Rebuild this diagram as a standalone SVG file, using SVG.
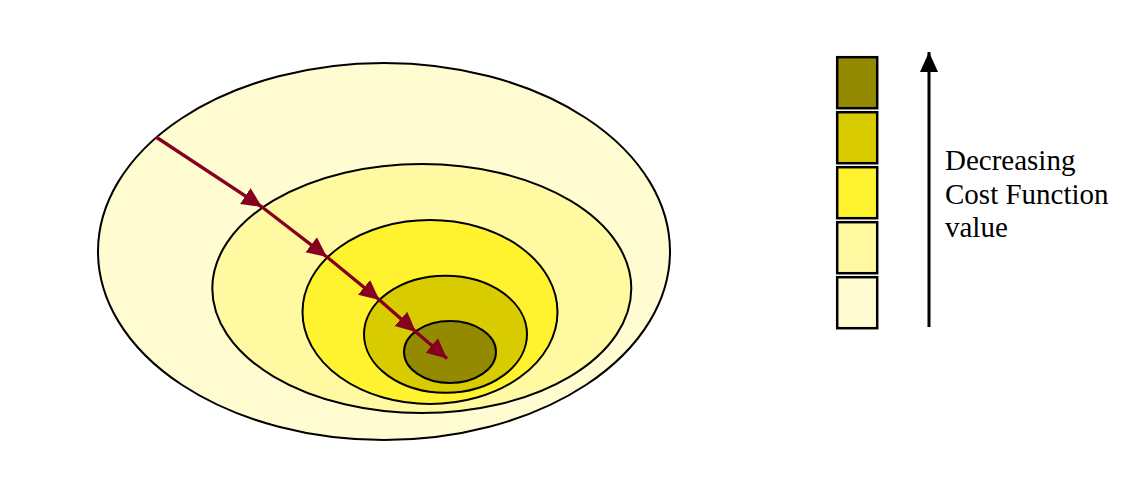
<svg xmlns="http://www.w3.org/2000/svg" width="1147" height="477" viewBox="0 0 1147 477">
<style>
.c{stroke:#000;stroke-width:2}
.sq{stroke:#000;stroke-width:2.5}
.step{stroke:#860020;stroke-width:3.4;fill:none;marker-end:url(#ah)}
.lbl{font-family:"Liberation Serif","Times New Roman",serif;font-size:29px;fill:#000}
</style>
<defs>
<marker id="ah" markerUnits="userSpaceOnUse" markerWidth="22" markerHeight="22" viewBox="0 0 22 22" refX="20" refY="10" orient="auto">
<path d="M0,0.5 L20,10 L0,19.5 Z" fill="#860020"/>
</marker>
<marker id="up" markerUnits="userSpaceOnUse" markerWidth="22" markerHeight="20" viewBox="0 0 22 20" refX="20" refY="10" orient="auto">
<path d="M0,1 L20,10 L0,19 Z" fill="#000"/>
</marker>
</defs>
<rect width="1147" height="477" fill="#fff"/>
<g id="contours">
<ellipse id="level1" class="c" cx="384" cy="251.5" rx="286" ry="188.5" fill="#FFFCD2"/>
<ellipse id="level2" class="c" cx="421.8" cy="288.5" rx="209.5" ry="124.5" fill="#FFF9A2"/>
<ellipse id="level3" class="c" cx="430" cy="312" rx="127.5" ry="92" fill="#FFF22E"/>
<ellipse id="level4" class="c" cx="445.5" cy="334.3" rx="81.5" ry="58.5" fill="#D8CB00"/>
<ellipse id="level5" class="c" cx="450" cy="352" rx="46" ry="31" fill="#948A00"/>
</g>
<g id="connectors">
<line class="step" x1="156" y1="137" x2="262" y2="207"/>
<line class="step" x1="262" y1="207" x2="327" y2="257"/>
<line class="step" x1="327" y1="257" x2="379.5" y2="300"/>
<line class="step" x1="379.5" y1="300" x2="416" y2="332"/>
<line class="step" x1="416" y1="332" x2="447" y2="358.5"/>
<line id="cost-axis" x1="929" y1="327" x2="929" y2="52" stroke="#000" stroke-width="3" marker-end="url(#up)"/>
</g>
<g id="legend">
<rect class="sq" x="837.2" y="57.2" width="40" height="51" fill="#948A00"/>
<rect class="sq" x="837.2" y="112.2" width="40" height="51" fill="#D8CB00"/>
<rect class="sq" x="837.2" y="167.2" width="40" height="51" fill="#FFF22E"/>
<rect class="sq" x="837.2" y="222.2" width="40" height="51" fill="#FFF9A2"/>
<rect class="sq" x="837.2" y="277.2" width="40" height="51" fill="#FFFCD2"/>
</g>
<g id="label">
<text class="lbl" x="945" y="170">Decreasing</text>
<text class="lbl" x="945" y="203.5">Cost Function</text>
<text class="lbl" x="945" y="237">value</text>
</g>
</svg>
